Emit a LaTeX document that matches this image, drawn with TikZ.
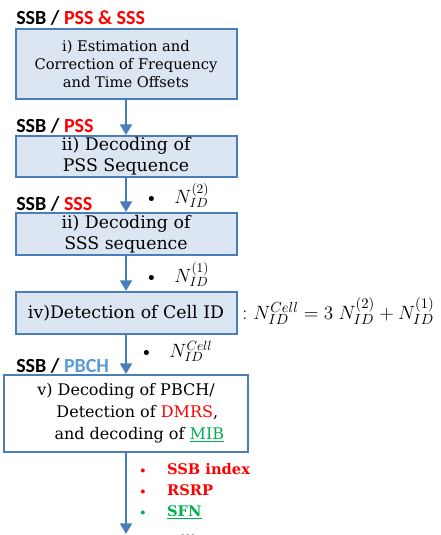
\documentclass[tikz,border=0pt]{standalone}
\usepackage{fontspec}
\usepackage{tikz}
\usetikzlibrary{arrows.meta,shapes}
\newfontfamily\stagefamily{DejaVu Serif}
\newfontfamily\tagfamily{Carlito}
\definecolor{boxblue}{HTML}{4A7EBB}
\definecolor{boxfill}{HTML}{DCE6F2}
\definecolor{pbchblue}{HTML}{5B9BD5}
\definecolor{mibgreen}{HTML}{00B050}
\tikzstyle{stage}=[draw=boxblue,fill=boxfill,line width=1.5pt,align=center,inner sep=0pt,minimum width=165.75pt,font=\stagefamily\fontsize{13}{15.75}\selectfont]
\tikzstyle{last stage}=[stage,fill=white,minimum width=183pt,font=\stagefamily\fontsize{12}{16.5}\selectfont]
\tikzstyle{tag}=[anchor=base west,inner sep=0pt,font=\tagfamily\bfseries\fontsize{15}{18}\selectfont]
\tikzstyle{value}=[anchor=base west,inner sep=0pt,font=\fontsize{14}{16}\selectfont]
\tikzstyle{item}=[anchor=west,inner sep=0pt,font=\stagefamily\bfseries\fontsize{11}{13}\selectfont]
\tikzstyle{flow}=[draw=boxblue,line width=1.5pt,-{Triangle[length=8pt,width=9pt]}]

\begin{document}
\begin{tikzpicture}[x=0.75pt,y=-0.75pt]
    \useasboundingbox (0,0) rectangle (440,535);
    % the processing steps
    \node[stage,minimum height=52.5pt,font=\stagefamily\fontsize{11}{13.5}\selectfont] (est) at (126,64)
        {i) Estimation and\\Correction of Frequency\\and Time Offsets};
    \node[stage,minimum height=30.75pt] (pss) at (126,156.5) {ii) Decoding of\\PSS Sequence};
    \node[stage,minimum height=31.5pt] (sss) at (126,234) {ii) Decoding of\\SSS sequence};
    \node[stage,minimum height=31.5pt] (cell) at (126,313) {iv)Detection of Cell ID};
    \node[last stage,minimum height=57.75pt] (pbch) at (126,413.5)
        {v) Decoding of PBCH/\\
         \hspace*{17pt}Detection of \textcolor{red}{DMRS},\\
         \hspace*{20pt}and decoding of \textcolor{mibgreen}{\underline{MIB}}};
    \coordinate (tail) at (126,534);

    % signals fed into the steps
    \node[tag] (tagA) at (16,25) {SSB / \textcolor{red}{PSS \& SSS}};
    \node[tag] (tagB) at (16,132) {SSB / \textcolor{red}{PSS}};
    \node[tag] (tagC) at (16,210) {SSB / \textcolor{red}{SSS}};
    \node[tag] (tagD) at (16,372) {SSB / \textcolor{pbchblue}{PBCH}};

    % values found on the way
    \node[value] (nid2) at (144,203) {\textbullet\hspace{12pt}$N_{ID}^{(2)}$};
    \node[value] (nid1) at (144,282) {\textbullet\hspace{12pt}$N_{ID}^{(1)}$};
    \node[value] (nidc) at (139,357) {\textbullet\hspace{12pt}$N_{ID}^{Cell}$};
    \node[value,font=\fontsize{15}{17}\selectfont] (rule) at (242,319) {:\ $N_{ID}^{Cell}=3\;N_{ID}^{(2)}+N_{ID}^{(1)}$};

    \foreach \y/\name/\col/\txt in {469/idx/red/SSB index, 490/rsrp/red/RSRP, 512/sfn/mibgreen/\underline{SFN}}
        \node[item,text=\col] (\name) at (137,\y) {{\normalfont\textbullet}\hspace{14pt}\txt};
    \node[anchor=base,inner sep=0pt,font=\stagefamily\bfseries\fontsize{11}{13}\selectfont] (more) at (188,537.5) {...};

    % connect the steps
    \foreach \source/\dest in {est/pss, pss/sss, sss/cell, cell/pbch, pbch/tail}
        \path[flow] (\source) -- (\dest);
\end{tikzpicture}
\end{document}
